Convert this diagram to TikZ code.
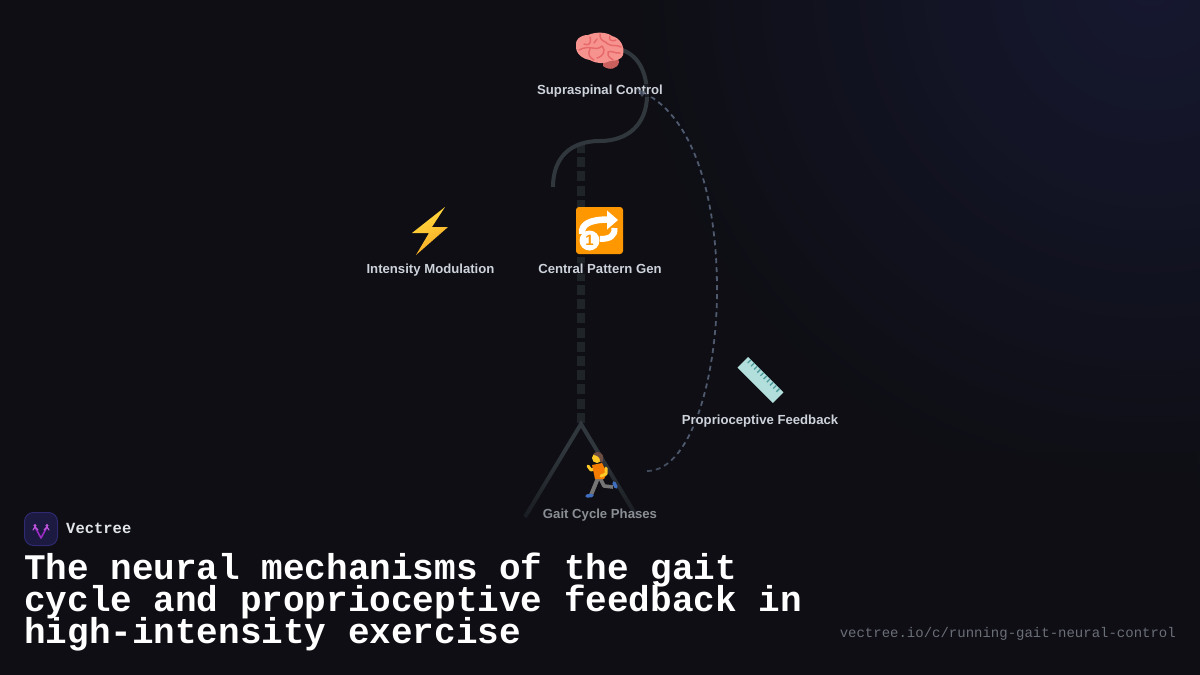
\documentclass[tikz,border=0pt]{standalone}
\usepackage{fontspec}
\setmainfont{Liberation Sans}
\newfontfamily\monof{Liberation Mono}
\usetikzlibrary{fadings,calc}
\definecolor{bgc}{HTML}{0E0E14}
\definecolor{glowc}{HTML}{161830}
\definecolor{spinec}{HTML}{1F2429}
\definecolor{treec}{HTML}{30383D}
\definecolor{dashc}{HTML}{4F5A6E}
\definecolor{labelc}{HTML}{CDD2DB}
\definecolor{brainA}{HTML}{F7938F}
\definecolor{brainB}{HTML}{E76A6A}
\definecolor{brainC}{HTML}{C9605E}
\definecolor{boltA}{HTML}{FFDD3F}
\definecolor{boltB}{HTML}{F9A825}
\definecolor{rpO}{HTML}{FF9800}
\definecolor{rulA}{HTML}{B2DFDB}
\definecolor{rulB}{HTML}{4F9A9E}
\definecolor{runS}{HTML}{F57C00}
\definecolor{runY}{HTML}{FFCA28}
\definecolor{runG}{HTML}{757575}
\definecolor{runH}{HTML}{6D4C41}
\definecolor{runB}{HTML}{3F6FC0}
\definecolor{logoF}{HTML}{1C1A40}
\definecolor{logoD}{HTML}{2F2A70}
\definecolor{logoV}{HTML}{9B2BC4}
\definecolor{logoP}{HTML}{C257E0}
\definecolor{urlc}{HTML}{6B6F78}
\tikzfading[name=botfade, top color=transparent!100, bottom color=transparent!0]
\tikzset{
 x=1pt,y=-1pt,
 lab/.style={font=\fontsize{13.15}{13}\selectfont\bfseries,text=labelc,anchor=base,inner sep=0.5pt,fill=bgc,fill opacity=.6,text opacity=1},
 titlet/.style={font=\fontsize{36}{36}\selectfont\monof\bfseries,text=white,anchor=base west,inner sep=0pt},
}
\begin{document}
\begin{tikzpicture}
\useasboundingbox (0,0) rectangle (1200,675);
\fill[bgc] (0,0) rectangle (1200,675);
\begin{scope}
\clip (0,0) rectangle (1200,675);
\shade[inner color=glowc,outer color=bgc] (1150,-20) circle[radius=520];
\end{scope}
% coordinates
\coordinate (brainAnchor) at (622,50);
\coordinate (spineTop) at (581,143);
\coordinate (spineFork) at (581,424);
\coordinate (forkL) at (525,517);
\coordinate (forkR) at (637,517);
\coordinate (branchEnd) at (553,187);
\coordinate (fbStart) at (647,471);
\coordinate (fbEnd) at (640,91);
% connectors
\draw[spinec,line width=8pt,dash pattern=on 10pt off 4.2pt] (spineTop) -- (spineFork);
\draw[treec,line width=4pt] (forkL) -- (spineFork) -- (forkR);
\draw[treec,line width=4pt] (brainAnchor) .. controls (640,56) and (647,75) .. (647,95)
  .. controls (647,125) and (627,141) .. (600,141)
  .. controls (570,141) and (553,158) .. (branchEnd);
\draw[dashc,line width=1.8pt,dash pattern=on 5pt off 4pt] (fbStart) .. controls (690,471) and (717,380) .. (717,290)
  .. controls (717,190) and (690,112) .. (fbEnd);
% bottom fade
\fill[bgc,path fading=botfade] (0,450) rectangle (1200,555);
\fill[bgc] (0,555) rectangle (1200,675);
% brain
\fill[brainC] (603,60) .. controls (610,56) and (620,56) .. (619,62) .. controls (618,69) and (609,71) .. (603,66) -- cycle;
\fill[brainA] (576,45) .. controls (575,40) and (580,35) .. (588,35) .. controls (596,31.5) and (607,32) .. (612,36)
 .. controls (620,38) and (625,46) .. (623,55) .. controls (622,59) and (616,61) .. (610,61)
 .. controls (604,64) and (597,64) .. (590,60) .. controls (583,59) and (575,54) .. (576,45) -- cycle;
\draw[brainB,line width=1.5pt,line cap=round] (579,50) .. controls (590,44) and (596,52) .. (602,46)
 (590,37) .. controls (592,44) and (588,46) .. (584,44)
 (600,34) .. controls (600,42) and (604,40) .. (608,44) .. controls (612,47) and (616,44) .. (621,47)
 (602,46) .. controls (606,50) and (604,56) .. (597,58)
 (610,36) .. controls (608,40) and (612,42) .. (616,40)
 (590,49) .. controls (587,54) and (590,58) .. (594,60)
 (608,52) .. controls (612,50) and (615,54) .. (620,53)
 (608,52) .. controls (607,57) and (611,58) .. (613,60)
 (597,39) -- (594,43);
\node[lab] (supra) at (600,94) {Supraspinal Control};
\fill[dashc,opacity=.75] (fbEnd) ++(-3,-2) -- ++(9,3) -- ++(-4,5) -- cycle;
% bolt
\shade[left color=boltA,right color=boltB,shading angle=30] (445,207) -- (412,233) -- (429,233) -- (416,255) -- (448,227) -- (432,227) -- cycle;
\node[lab] (intens) at (430.5,273) {Intensity Modulation};
% repeat-one
\fill[rpO,rounded corners=3pt] (576,207) rectangle (623,254);
\draw[white,line width=6.5pt] (582,234) .. controls (581,224) and (590,219.5) .. (609,219.5);
\fill[white] (607,210.5) -- (618,220) -- (607,229.5) -- cycle;
\draw[white,line width=6pt] (614.5,228) .. controls (615,236) and (610,239) .. (600,239);
\fill[white] (589.5,240.5) circle[radius=10];
\node[font=\fontsize{15}{15}\selectfont\bfseries,text=rpO,inner sep=0pt] (one) at (589.5,240.5) {1};
\node[lab] (cpg) at (600,273) {Central Pattern Gen};
% ruler
\begin{scope}[shift={(760.5,380)},rotate=-45]
\fill[rulA] (-25,-7.5) rectangle (25,7.5);
\foreach \i in {-21,-16.5,...,22} \draw[rulB,line width=1.3pt] (\i,-7.5) -- (\i,-3);
\end{scope}
\node[lab] (prop) at (760,424) {Proprioceptive Feedback};
% runner
\draw[runG,line width=4pt,line join=round] (598,478) -- (591,495);
\draw[runG,line width=3.6pt,line join=round] (600,478) -- (604,486) -- (613,487);
\draw[runB,line width=3.4pt,line cap=round] (587,496) -- (592,495.5);
\draw[runB,line width=3.4pt,line cap=round] (614,483) -- (616,487);
\draw[runY,line width=3pt,line cap=round,line join=round] (595,469) -- (591,470) -- (588,466);
\fill[runS] (592,465) -- (602,463) -- (607,473) -- (604,479) -- (595,479) -- cycle;
\draw[runY,line width=3pt,line cap=round,line join=round] (606,468) -- (606,474) -- (601,476);
\fill[runY] (597,458) circle[radius=5];
\fill[runH] (594,453) .. controls (598,451) and (604,452) .. (603,459) .. controls (603,462) and (601,464) .. (600,462) .. controls (600.5,458) and (598,455.5) .. (594,455) -- cycle;
\node[lab,fill opacity=0,text=labelc!65!bgc] (gait) at (600,518) {Gait Cycle Phases};
% brand
\fill[draw=logoD,fill=logoF,line width=1pt,rounded corners=9pt] (24.5,512.5) rectangle (57.5,545.5);
\draw[logoV,line width=1.6pt,line join=round,line cap=round] (35,527) -- (41,538) -- (47,527);
\draw[logoP,line width=1.2pt,line cap=round] (33,530) -- (35,527) -- (38,530) (44,530) -- (47,527) -- (49,530);
\fill[logoP] (35,525.5) circle[radius=1.6] (47,525.5) circle[radius=1.6];
\node[font=\fontsize{15.5}{16}\selectfont\monof\bfseries,text=labelc!60!white,anchor=base west,inner sep=0pt] (brand) at (66,533) {Vectree};
% title
\node[titlet] (t1) at (24,579) {The neural mechanisms of the gait};
\node[titlet] (t2) at (24,611) {cycle and proprioceptive feedback in};
\node[titlet] (t3) at (24,643) {high-intensity exercise};
\node[font=\fontsize{14}{14}\selectfont\monof,text=urlc,anchor=base east,inner sep=0pt] (url) at (1176,637) {vectree.io/c/running-gait-neural-control};
\end{tikzpicture}
\end{document}
